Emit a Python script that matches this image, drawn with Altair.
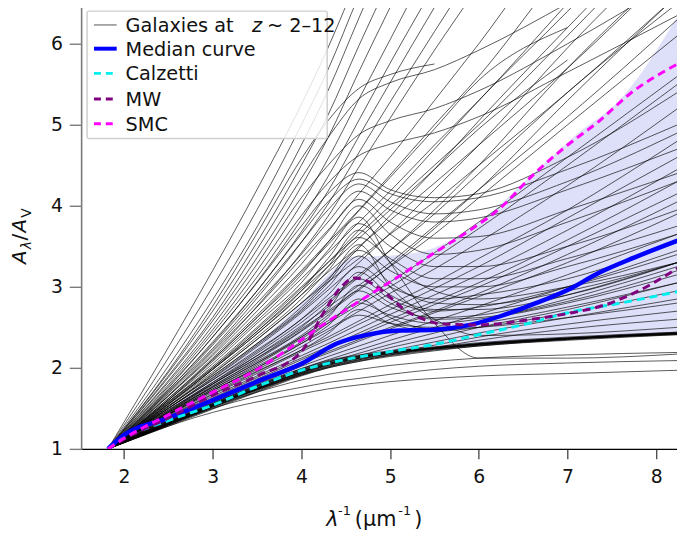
import altair as alt
import pandas as pd

X = [1.82, 2.5, 3.0, 3.5, 4.0, 4.3, 4.65, 5.0, 5.5, 6.0, 7.0, 8.24]
N = None

galaxies = {
    # steep curves leaving the top early
    "S01": [1, 2.25, 3.2, 4.2, 5.25, 5.95, 6.85, 7.7, 8.8, 9.8, 11.5, 13.5],
    "S02": [1, 2.12, 3.0, 3.95, 5.0, 5.68, 6.6, 7.45, 8.6, 9.6, 11.3, 13.3],
    "S03": [1, 2.02, 2.84, 3.74, 4.75, 5.42, 6.32, 7.2, 8.3, 9.4, 11, 13],
    "S04": [1, 1.94, 2.7, 3.55, 4.5, 5.12, 5.98, 6.8, 7.9, 9, 10.8, 12.8],
    "S05": [1, 1.88, 2.58, 3.36, 4.24, 4.84, 5.66, 6.45, 7.55, 8.6, 10.4, 12.5],
    "S06": [1, 1.82, 2.47, 3.2, 4.02, 4.58, 5.32, 6.05, 7.1, 8.1, 10, 12],
    "S07": [1, 1.77, 2.38, 3.06, 3.83, 4.36, 5.06, 5.76, 6.72, 7.65, 9.5, 11.5],
    "S08": [1, 1.73, 2.3, 2.95, 3.68, 4.18, 4.86, 5.52, 6.45, 7.35, 9.1, 11],
    "S09": [1, 1.7, 2.24, 2.86, 3.55, 4.02, 4.66, 5.28, 6.15, 7.0, 8.7, 10.6],
    "S10": [1, 1.66, 2.17, 2.76, 3.42, 3.87, 4.48, 5.08, 5.92, 6.72, 8.3, 10.2],
    # rising then flattening
    "F1": [1, 1.96, 2.76, 3.66, 4.58, 5.05, 5.45, 5.62, 5.75, N, N, N],
    "F2": [1, 1.9, 2.62, 3.46, 4.34, 4.84, 5.32, 5.52, 5.68, 5.92, 6.5, 7.3],
    "F3": [1, 1.84, 2.52, 3.28, 4.1, 4.5, 4.88, 5.05, 5.2, 5.42, 6.0, 6.8],
    "F4": [1, 1.79, 2.43, 3.12, 3.88, 4.28, 4.62, 4.76, 4.9, 5.1, 5.65, 6.35],
    # curves with a 2175 A bump
    "B01": [1, 1.75, 2.38, 3.05, 3.75, 4.15, 4.41, 4.2, 4.1, 4.15, 4.6, 5.4],
    "B02": [1, 1.72, 2.32, 2.95, 3.65, 4.05, 4.33, 4.15, 4.05, 4.1, 4.45, 5.0],
    "B03": [1, 1.7, 2.28, 2.9, 3.55, 3.95, 4.27, 4.05, 3.9, 3.95, 4.3, 4.9],
    "B04": [1, 1.68, 2.22, 2.8, 3.4, 3.8, 4.18, 3.95, 3.8, 3.85, 4.2, 4.7],
    "B05": [1, 1.65, 2.15, 2.7, 3.28, 3.68, 4.08, 3.8, 3.6, 3.62, 3.95, 4.4],
    "B06": [1, 1.62, 2.1, 2.62, 3.15, 3.55, 4.0, 3.65, 3.4, 3.45, 3.8, 4.3],
    "B07": [1, 1.6, 2.05, 2.55, 3.05, 3.45, 3.86, 3.3, 2.55, 2.12, 2.12, 2.17],
    "B08": [1, 1.58, 2.0, 2.45, 2.95, 3.35, 3.78, 3.5, 3.25, 3.25, 3.5, 3.95],
    "B09": [1, 1.55, 1.95, 2.38, 2.85, 3.2, 3.61, 3.35, 3.1, 3.1, 3.35, 3.75],
    "B10": [1, 1.52, 1.9, 2.3, 2.72, 3.05, 3.45, 3.2, 3.0, 3.0, 3.25, 3.65],
    "B11": [1, 1.5, 1.85, 2.22, 2.6, 2.9, 3.25, 3.0, 2.85, 2.9, 3.1, 3.55],
    "B12": [1, 1.48, 1.82, 2.15, 2.5, 2.78, 3.1, 2.85, 2.7, 2.75, 3.0, 3.4],
    "B13": [1, 1.45, 1.78, 2.08, 2.4, 2.65, 2.95, 2.75, 2.62, 2.65, 2.9, 3.3],
    "B14": [1, 1.43, 1.74, 2.02, 2.32, 2.55, 2.8, 2.65, 2.55, 2.6, 2.8, 3.15],
    "B15": [1, 1.42, 1.72, 1.98, 2.26, 2.45, 2.65, 2.55, 2.5, 2.55, 2.75, 3.05],
    "B16": [1, 1.44, 1.76, 2.06, 2.38, 2.62, 3.02, 2.8, 2.6, 2.62, 2.82, 3.2],
    "B17": [1, 1.46, 1.8, 2.12, 2.46, 2.72, 3.18, 2.9, 2.72, 2.72, 2.9, 3.3],
    "B18": [1, 1.41, 1.7, 1.96, 2.22, 2.42, 2.72, 2.55, 2.45, 2.5, 2.68, 2.95],
    "B19": [1, 1.5, 1.88, 2.28, 2.7, 3.0, 3.38, 3.05, 2.8, 2.78, 2.95, 3.3],
    "B20": [1, 1.53, 1.9, 2.3, 2.75, 3.08, 3.52, 3.0, 2.6, 2.4, 2.42, 2.5],
    "B21": [1, 1.42, 1.72, 2.0, 2.3, 2.52, 2.85, 2.62, 2.48, 2.5, 2.62, 2.8],
    "B22": [1, 1.56, 1.98, 2.42, 2.9, 3.25, 3.7, 3.3, 2.95, 2.85, 3.0, 3.3],
    # smooth, leaving the top between x ~ 6 and 8
    "U1": [1, 1.65, 2.2, 2.75, 3.35, 3.7, 4.15, 4.6, 5.3, 6.0, 7.5, 9],
    "U2": [1, 1.62, 2.12, 2.65, 3.2, 3.55, 3.95, 4.38, 5.0, 5.6, 7.0, 8.5],
    "U3": [1, 1.6, 2.08, 2.58, 3.1, 3.42, 3.8, 4.18, 4.75, 5.3, 6.5, 8],
    "U4": [1, 1.58, 2.02, 2.5, 3.0, 3.3, 3.65, 4.0, 4.5, 5.0, 6.1, 7.5],
    "U5": [1, 1.55, 1.98, 2.42, 2.9, 3.18, 3.5, 3.82, 4.28, 4.75, 5.7, 7.0],
    "U6": [1, 1.53, 1.93, 2.35, 2.8, 3.06, 3.35, 3.65, 4.05, 4.5, 5.4, 6.6],
    "E1": [1, 1.55, 1.98, 2.45, 2.95, 3.25, 3.6, 3.95, 4.45, 4.95, 5.8, N],
    "E2": [1, 1.6, 2.1, 2.62, 3.18, 3.52, 3.94, 4.35, 4.95, 5.55, 6.2, N],
    "V1": [1, 1.57, 2.0, 2.48, 2.98, 3.3, 3.7, 4.1, 4.7, 5.3, 6.4, 7.8],
    "V2": [1, 1.52, 1.92, 2.35, 2.8, 3.1, 3.48, 3.88, 4.45, 5.05, 6.2, 7.6],
    "V3": [1, 1.5, 1.87, 2.26, 2.68, 2.96, 3.3, 3.66, 4.2, 4.75, 5.95, 7.3],
    "V4": [1, 1.47, 1.82, 2.18, 2.56, 2.82, 3.12, 3.45, 3.95, 4.5, 5.7, 7.0],
    "V5": [1, 1.44, 1.77, 2.1, 2.45, 2.68, 2.96, 3.26, 3.72, 4.2, 5.3, 6.6],
    # smooth moderate curves
    "M01": [1, 1.5, 1.85, 2.2, 2.6, 2.85, 3.15, 3.45, 3.9, 4.4, 5.4, 6.5],
    "M02": [1, 1.48, 1.8, 2.12, 2.48, 2.7, 2.98, 3.25, 3.65, 4.1, 5.0, 6.1],
    "M03": [1, 1.45, 1.76, 2.06, 2.38, 2.58, 2.82, 3.06, 3.42, 3.8, 4.6, 5.6],
    "M04": [1, 1.42, 1.72, 2.0, 2.3, 2.48, 2.7, 2.92, 3.22, 3.55, 4.25, 5.2],
    "M05": [1, 1.4, 1.68, 1.95, 2.22, 2.38, 2.58, 2.78, 3.05, 3.35, 3.95, 4.8],
    "M06": [1, 1.38, 1.65, 1.9, 2.15, 2.3, 2.48, 2.66, 2.9, 3.15, 3.7, 4.45],
    "M07": [1, 1.37, 1.62, 1.86, 2.1, 2.24, 2.4, 2.56, 2.78, 3.0, 3.5, 4.15],
    "M08": [1, 1.36, 1.6, 1.83, 2.06, 2.18, 2.33, 2.48, 2.68, 2.88, 3.3, 3.9],
    "M09": [1, 1.35, 1.58, 1.8, 2.02, 2.14, 2.27, 2.4, 2.58, 2.76, 3.15, 3.65],
    "M10": [1, 1.34, 1.57, 1.78, 1.99, 2.1, 2.22, 2.34, 2.5, 2.66, 3.0, 3.45],
    "M11": [1, 1.34, 1.56, 1.77, 1.97, 2.07, 2.18, 2.29, 2.43, 2.57, 2.85, 3.25],
    "M12": [1, 1.33, 1.55, 1.75, 1.95, 2.05, 2.15, 2.25, 2.37, 2.5, 2.72, 3.05],
    "M13": [1, 1.33, 1.55, 1.74, 1.93, 2.03, 2.12, 2.21, 2.32, 2.43, 2.62, 2.85],
    "M14": [1, 1.33, 1.54, 1.73, 1.92, 2.01, 2.1, 2.18, 2.28, 2.38, 2.54, 2.7],
    "M15": [1, 1.32, 1.54, 1.73, 1.91, 2.0, 2.08, 2.16, 2.25, 2.34, 2.48, 2.6],
    "M16": [1, 1.46, 1.8, 2.15, 2.52, 2.75, 3.02, 3.3, 3.75, 4.2, 5.1, 6.3],
    "M17": [1, 1.43, 1.74, 2.04, 2.36, 2.55, 2.78, 3.0, 3.35, 3.72, 4.5, 5.5],
    "M18": [1, 1.39, 1.67, 1.93, 2.2, 2.35, 2.54, 2.72, 2.98, 3.25, 3.85, 4.6],
    "M19": [1, 1.37, 1.63, 1.88, 2.12, 2.26, 2.43, 2.6, 2.82, 3.05, 3.58, 4.3],
    "M20": [1, 1.35, 1.6, 1.84, 2.07, 2.2, 2.35, 2.5, 2.7, 2.92, 3.4, 4.05],
    # dense Calzetti-like cluster
    "C01": [1, 1.31, 1.54, 1.76, 1.96, 2.06, 2.14, 2.2, 2.25, 2.3, 2.37, 2.43],
    "C02": [1, 1.3, 1.52, 1.74, 1.94, 2.04, 2.12, 2.18, 2.24, 2.29, 2.36, 2.42],
    "C03": [1, 1.29, 1.51, 1.72, 1.92, 2.02, 2.1, 2.16, 2.23, 2.28, 2.35, 2.42],
    "C04": [1, 1.32, 1.55, 1.78, 1.98, 2.08, 2.15, 2.2, 2.25, 2.3, 2.37, 2.44],
    "C05": [1, 1.3, 1.53, 1.75, 1.95, 2.05, 2.13, 2.19, 2.245, 2.295, 2.365, 2.425],
    "C06": [1, 1.29, 1.5, 1.71, 1.91, 2.01, 2.09, 2.15, 2.22, 2.27, 2.35, 2.41],
    "C07": [1, 1.31, 1.53, 1.75, 1.95, 2.05, 2.13, 2.19, 2.24, 2.29, 2.36, 2.43],
    "C08": [1, 1.3, 1.52, 1.73, 1.93, 2.03, 2.11, 2.17, 2.23, 2.28, 2.36, 2.42],
    "C09": [1, 1.32, 1.56, 1.79, 1.99, 2.09, 2.16, 2.21, 2.26, 2.31, 2.38, 2.44],
    "C10": [1, 1.28, 1.49, 1.7, 1.9, 2.0, 2.08, 2.14, 2.21, 2.27, 2.34, 2.41],
    "C11": [1, 1.3, 1.52, 1.74, 1.94, 2.04, 2.12, 2.18, 2.24, 2.29, 2.36, 2.42],
    "C12": [1, 1.31, 1.54, 1.77, 1.97, 2.07, 2.14, 2.19, 2.24, 2.29, 2.36, 2.43],
    # lowest curves
    "L1": [1, 1.28, 1.45, 1.58, 1.68, 1.74, 1.79, 1.83, 1.87, 1.9, 1.93, 1.97],
    "L2": [1, 1.3, 1.5, 1.65, 1.76, 1.82, 1.87, 1.92, 1.98, 2.02, 2.06, 2.09],
    "L3": [1, 1.31, 1.52, 1.7, 1.85, 1.92, 1.98, 2.03, 2.08, 2.12, 2.16, 2.19],
}

median_x = [1.82, 2.0, 2.5, 3.0, 3.5, 4.0, 4.4, 4.75, 5.1, 5.5, 5.9, 6.25, 6.6, 7.0, 7.35, 7.75, 8.24]
median_y = [1.0, 1.17, 1.38, 1.6, 1.83, 2.05, 2.3, 2.41, 2.46, 2.47, 2.53, 2.64, 2.78, 2.96, 3.17, 3.36, 3.57]

calz_x = [1.82, 2.0, 2.5, 3.0, 3.5, 4.0, 4.4, 5.0, 5.5, 6.0, 6.6, 7.0, 7.6, 8.24]
calz_y = [1.0, 1.13, 1.35, 1.54, 1.77, 1.97, 2.08, 2.2, 2.29, 2.41, 2.56, 2.68, 2.8, 2.94]

mw_x = [1.82, 2.0, 2.5, 3.0, 3.5, 4.0, 4.25, 4.45, 4.6, 4.78, 4.95, 5.15, 5.35, 5.6, 6.0, 6.6, 7.0, 7.4, 7.8, 8.24]
mw_y = [1.0, 1.12, 1.38, 1.66, 1.9, 2.2, 2.68, 3.0, 3.11, 3.05, 2.92, 2.73, 2.61, 2.54, 2.53, 2.6, 2.67, 2.77, 2.95, 3.23]

smc_x = [1.82, 2.0, 2.5, 3.0, 3.5, 3.85, 4.2, 4.65, 5.1, 5.5, 5.9, 6.25, 6.6, 7.0, 7.35, 7.7, 8.24]
smc_y = [1.0, 1.13, 1.42, 1.7, 1.98, 2.23, 2.5, 2.82, 3.13, 3.42, 3.7, 3.98, 4.37, 4.75, 5.04, 5.38, 5.75]

band_x = [1.82, 2.0, 2.5, 3.0, 3.5, 4.0, 4.3, 4.6, 4.9, 5.3, 5.7, 6.1, 6.5, 7.1, 7.6, 8.24]
band_lo = [1.0, 1.12, 1.33, 1.53, 1.74, 1.94, 2.04, 2.11, 2.15, 2.2, 2.24, 2.28, 2.31, 2.35, 2.39, 2.43]
band_hi = [1.0, 1.2, 1.5, 1.88, 2.3, 2.8, 3.15, 3.37, 3.38, 3.42, 3.58, 3.88, 4.28, 4.88, 5.32, 6.34]

x_ticks = [2, 3, 4, 5, 6, 7, 8]
y_ticks = [1, 2, 3, 4, 5, 6]

legend_labels = ["Median curve", "Calzetti", "MW", "SMC"]
legend_colors = ["#0000ff", "#00f0f0", "#800080", "#ff00ff"]

FONT = "DejaVu Sans"
W, H = 603, 451

rows = []
for gid, ys in galaxies.items():
    for xv, yv in zip(X, ys):
        if yv is not None:
            rows.append({"id": gid, "x": xv, "y": yv})
gal_df = pd.DataFrame(rows)

xs = alt.Scale(domain=[1.518, 8.233], nice=False, zero=False)
ys_ = alt.Scale(domain=[1, 6.5], nice=False, zero=False)

x_axis = alt.Axis(values=x_ticks, format="d", title=None, tickSize=10, labelPadding=9,
                  labelFontSize=19, labelFont=FONT, labelColor="#111",
                  domainColor="#000", domainWidth=1.2, tickColor="#333", tickWidth=1.2,
                  grid=False, labelFlush=False)
y_axis = alt.Axis(values=y_ticks, format="d", title=None, tickSize=12, labelPadding=7,
                  labelFontSize=19, labelFont=FONT, labelColor="#111",
                  domainColor="#7a7a7a", domainWidth=1.6, tickColor="#7a7a7a", tickWidth=1.4,
                  grid=False, labelFlush=False)

band = alt.Chart(pd.DataFrame({"x": band_x, "lo": band_lo, "hi": band_hi})).mark_area(
    color="#dedff8", interpolate="monotone", clip=True
).encode(
    x=alt.X("x:Q", scale=xs, axis=x_axis),
    y=alt.Y("lo:Q", scale=ys_, axis=y_axis),
    y2="hi:Q",
)

lines = alt.Chart(gal_df).mark_line(
    color="#000", strokeWidth=0.9, opacity=0.72, interpolate="monotone", clip=True
).encode(
    x=alt.X("x:Q", scale=xs), y=alt.Y("y:Q", scale=ys_), detail="id:N"
)


def curve(xv, yv, color, width, dash=None):
    kw = dict(color=color, strokeWidth=width, interpolate="monotone", clip=True)
    if dash:
        kw["strokeDash"] = dash
    return alt.Chart(pd.DataFrame({"x": xv, "y": yv})).mark_line(**kw).encode(
        x=alt.X("x:Q", scale=xs), y=alt.Y("y:Q", scale=ys_)
    )


median = curve(median_x, median_y, legend_colors[0], 4.5)
calz = curve(calz_x, calz_y, legend_colors[1], 3, [8, 5])
mw = curve(mw_x, mw_y, legend_colors[2], 3, [8, 5])
smc = curve(smc_x, smc_y, legend_colors[3], 3, [8, 5])


def text(t, x, y, size=19.5, italic=False, angle=0, align="left", baseline="alphabetic"):
    kw = dict(text=t, font=FONT, fontSize=size, color="#111", align=align, baseline=baseline)
    if italic:
        kw["fontStyle"] = "italic"
    if angle:
        kw["angle"] = angle
    return alt.Chart(pd.DataFrame({"a": [0]})).mark_text(**kw).encode(
        x=alt.value(x), y=alt.value(y)
    )


# legend (positions in plot pixels)
legend_box = alt.Chart(pd.DataFrame({"a": [0]})).mark_rect(
    fill="white", fillOpacity=0.82, stroke="#cfcfcf", strokeWidth=1.5, cornerRadius=2
).encode(x=alt.value(6), x2=alt.value(249), y=alt.value(8), y2=alt.value(137))

leg_layers = [legend_box]
row_y = [22, 46, 71, 97, 122]
leg_layers.append(alt.Chart(pd.DataFrame({"a": [0]})).mark_rule(
    color="#000", strokeWidth=0.9, opacity=0.75).encode(
    x=alt.value(13), x2=alt.value(36), y=alt.value(row_y[0])))
leg_layers.append(text("Galaxies at", 45, row_y[0] + 7))
leg_layers.append(text("z", 173, row_y[0] + 7, italic=True))
leg_layers.append(text("~ 2–12", 188, row_y[0] + 7))
for i, (lab, col) in enumerate(zip(legend_labels, legend_colors)):
    kw = dict(color=col, strokeWidth=4 if i == 0 else 3)
    if i > 0:
        kw["strokeDash"] = [7, 5]
    leg_layers.append(alt.Chart(pd.DataFrame({"a": [0]})).mark_rule(**kw).encode(
        x=alt.value(13), x2=alt.value(36), y=alt.value(row_y[i + 1])))
    leg_layers.append(text(lab, 45, row_y[i + 1] + 7))

# axis titles built from pieces (plot pixel coordinates)
ytitle = [
    text("A", -56, 264, size=20, italic=True, angle=270),
    text("λ", -51, 249, size=14, italic=True, angle=270),
    text("/", -56, 240, size=20, angle=270),
    text("A", -56, 232, size=20, italic=True, angle=270),
    text("V", -51, 217, size=14, angle=270),
]
xtitle = [
    text("λ", 248, 529, size=21, italic=True),
    text("-1", 260, 518, size=13),
    text("(μm", 277, 529, size=21),
    text("-1", 321, 518, size=13),
    text(")", 337, 529, size=21),
]

chart = alt.layer(
    band, lines, median, calz, mw, smc, *leg_layers, *ytitle, *xtitle
).properties(
    width=W, height=H, autosize="none",
    padding={"left": 74, "top": -8, "right": 0, "bottom": 86},
).configure_view(stroke="#222", strokeWidth=1.2).configure(background="white")

chart.save("out.html", embed_options={"renderer": "svg", "actions": False})
